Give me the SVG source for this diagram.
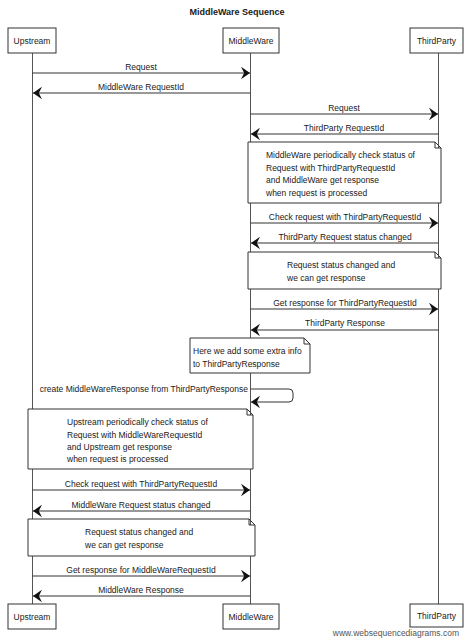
<svg xmlns="http://www.w3.org/2000/svg" width="474" height="642" viewBox="0 0 474 642">
<defs>
<style>
text{font-family:"Liberation Sans",Arial,sans-serif;font-size:8.5px;fill:#1a1a1a}
.title{font-size:9px;font-weight:bold}
.mid{text-anchor:middle}
.end{text-anchor:end}
.box{fill:#fff;stroke:#333;stroke-width:1}
.life{stroke:#555;stroke-width:1;fill:none}
.msg{stroke:#333;stroke-width:1;fill:none;marker-end:url(#ah)}
.note{fill:#fff;stroke:#333;stroke-width:1}
.foot{font-size:8.5px;fill:#555}
</style>
<marker id="ah" viewBox="0 0 10 14" refX="10" refY="7" markerWidth="9" markerHeight="13" markerUnits="userSpaceOnUse" orient="auto">
<path d="M0,0 L10,7 L0,14 L3.5,7 z" fill="#111"/>
</marker>
</defs>
<rect width="474" height="642" fill="#fff"/>
<text class="title mid" x="237" y="15">MiddleWare Sequence</text>

<g id="lifelines">
<line class="life" x1="32.5" y1="53" x2="32.5" y2="604"/>
<line class="life" x1="250.5" y1="53" x2="250.5" y2="604"/>
<line class="life" x1="438.5" y1="53" x2="438.5" y2="604"/>
</g>

<g id="upstream">
<rect class="box" x="8" y="28" width="48" height="25"/>
<text class="mid" x="32" y="43.5">Upstream</text>
<rect class="box" x="8" y="604" width="48" height="25"/>
<text class="mid" x="32" y="619.5">Upstream</text>
</g>
<g id="middleware">
<rect class="box" x="223" y="28" width="56" height="25"/>
<text class="mid" x="251" y="43.5">MiddleWare</text>
<rect class="box" x="223" y="604" width="56" height="25"/>
<text class="mid" x="251" y="619.5">MiddleWare</text>
</g>
<g id="thirdparty">
<rect class="box" x="410" y="28" width="53" height="25"/>
<text class="mid" x="436.5" y="43.5">ThirdParty</text>
<rect class="box" x="410" y="604" width="53" height="23"/>
<text class="mid" x="436.5" y="618.5">ThirdParty</text>
</g>

<g id="note1">
<path class="note" d="M248,142 L435,142 L441,148 L441,203 L248,203 Z M435,142 L435,148 L441,148"/>
<text x="266" y="158">MiddleWare periodically check status of</text>
<text x="266" y="170.5">Request with ThirdPartyRequestId</text>
<text x="266" y="183">and MiddleWare get response</text>
<text x="266" y="195.5">when request is processed</text>
</g>
<g id="note2">
<path class="note" d="M248,252 L435,252 L441,258 L441,289 L248,289 Z M435,252 L435,258 L441,258"/>
<text x="287" y="268">Request status changed and</text>
<text x="287" y="280.5">we can get response</text>
</g>
<g id="note3">
<path class="note" d="M190,338 L304,338 L310,344 L310,373 L190,373 Z M304,338 L304,344 L310,344"/>
<text x="193" y="354">Here we add some extra info</text>
<text x="193" y="366.5">to ThirdPartyResponse</text>
</g>
<g id="note4">
<path class="note" d="M28,409 L247,409 L253,415 L253,469 L28,469 Z M247,409 L247,415 L253,415"/>
<text x="67" y="425">Upstream periodically check status of</text>
<text x="67" y="437.5">Request with MiddleWareRequestId</text>
<text x="67" y="450">and Upstream get response</text>
<text x="67" y="462">when request is processed</text>
</g>
<g id="note5">
<path class="note" d="M28,519 L249,519 L255,525 L255,556 L28,556 Z M249,519 L249,525 L255,525"/>
<text x="85" y="535">Request status changed and</text>
<text x="85" y="547.5">we can get response</text>
</g>

<g id="connectors">
<line class="msg" x1="32.5" y1="73" x2="250" y2="73"/>
<line class="msg" x1="250.5" y1="93" x2="33" y2="93"/>
<line class="msg" x1="250.5" y1="114" x2="438" y2="114"/>
<line class="msg" x1="438.5" y1="134" x2="251" y2="134"/>
<line class="msg" x1="250.5" y1="223" x2="438" y2="223"/>
<line class="msg" x1="438.5" y1="243" x2="251" y2="243"/>
<line class="msg" x1="250.5" y1="309" x2="438" y2="309"/>
<line class="msg" x1="438.5" y1="330" x2="251" y2="330"/>
<path class="msg" d="M250.5,389 L289,389 Q293,389 293,393 L293,398 Q293,402 289,402 L251,402"/>
<line class="msg" x1="32.5" y1="490" x2="250" y2="490"/>
<line class="msg" x1="250.5" y1="511" x2="33" y2="511"/>
<line class="msg" x1="32.5" y1="576" x2="250" y2="576"/>
<line class="msg" x1="250.5" y1="596" x2="33" y2="596"/>
</g>

<g id="labels">
<text class="mid" x="141" y="70">Request</text>
<text class="mid" x="141" y="90">MiddleWare RequestId</text>
<text class="mid" x="344" y="111">Request</text>
<text class="mid" x="344" y="131">ThirdParty RequestId</text>
<text class="mid" x="345" y="220">Check request with ThirdPartyRequestId</text>
<text class="mid" x="345" y="240">ThirdParty Request status changed</text>
<text class="mid" x="345" y="306">Get response for ThirdPartyRequestId</text>
<text class="mid" x="345" y="326">ThirdParty Response</text>
<text class="end" x="248" y="392">create MiddleWareResponse from ThirdPartyResponse</text>
<text class="mid" x="141" y="487">Check request with ThirdPartyRequestId</text>
<text class="mid" x="141" y="508">MiddleWare Request status changed</text>
<text class="mid" x="141" y="573">Get response for MiddleWareRequestId</text>
<text class="mid" x="141" y="593">MiddleWare Response</text>
</g>

<text class="foot" x="459" y="636" text-anchor="end">www.websequencediagrams.com</text>
</svg>
